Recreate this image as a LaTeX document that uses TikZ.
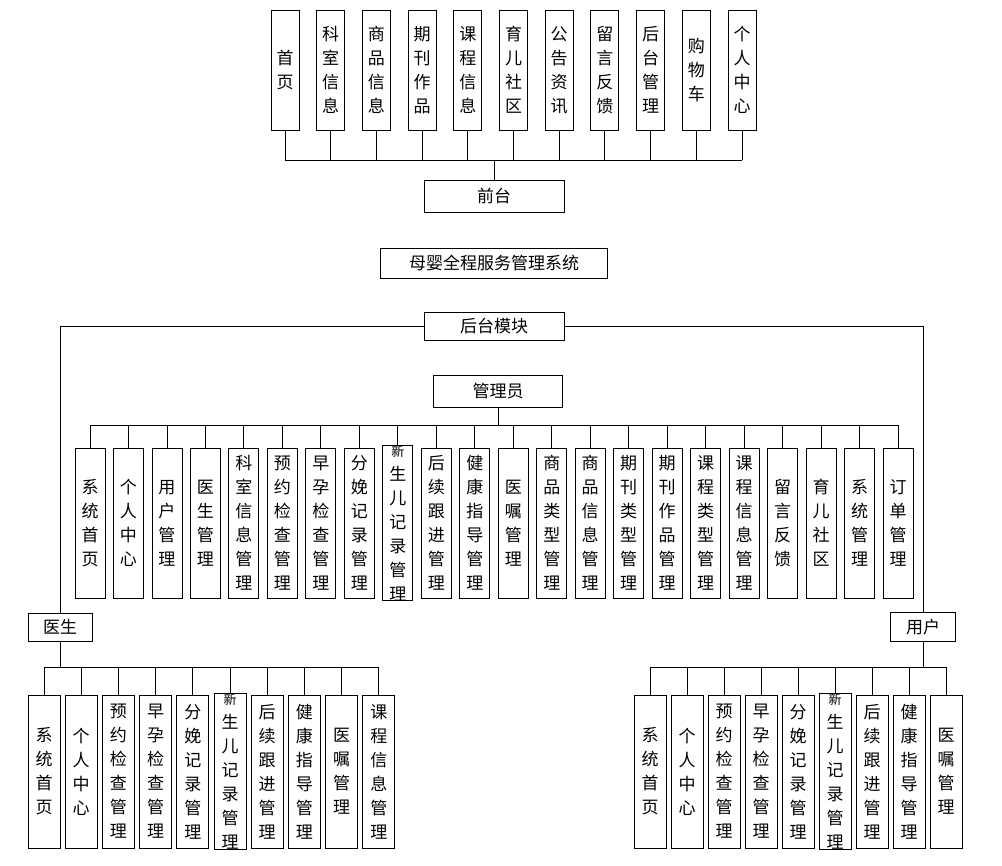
\documentclass[tikz,border=0pt]{standalone}
\usepackage{fontspec}
\newfontfamily\cjk{Noto Sans CJK SC}
\begin{document}
\begin{tikzpicture}[x=1pt,y=-1pt,
  bx/.style={draw,line width=0.9pt,inner sep=0pt,align=center,font=\cjk\fontsize{17}{24}\selectfont},
  vb/.style={bx,minimum width=#1},
  hb/.style={bx,font=\cjk\fontsize{17}{20}\selectfont},
  ln/.style={line width=0.9pt}]
\useasboundingbox (0,0) rectangle (1002,866);
% top
\coordinate (busT) at (0,160);
\foreach \t [count=\i] in {{首\\页},{科\\室\\信\\息},{商\\品\\信\\息},{期\\刊\\作\\品},{课\\程\\信\\息},{育\\儿\\社\\区},{公\\告\\资\\讯},{留\\言\\反\\馈},{后\\台\\管\\理},{购\\物\\车},{个\\人\\中\\心}}{
  \node[bx,minimum width=28pt,minimum height=120pt] (t\i) at ({285+45.7*(\i-1)},70) {\t};
  \draw[ln] (t\i.south) -- (t\i.south|-busT);
}
\draw[ln] (t1.south|-busT) -- (t11.south|-busT);
\node[hb,minimum width=140pt,minimum height=32pt] (fr) at (494,196) {前台};
\draw[ln] (fr.north) -- (fr.north|-busT);
\node[hb,minimum width=227pt,minimum height=30pt] (sys) at (494,263) {母婴全程服务管理系统};
\node[hb,minimum width=140pt,minimum height=28pt] (ht) at (494,326) {后台模块};
\node[hb,minimum width=129pt,minimum height=32pt] (adm) at (498,391) {管理员};
% admin
\coordinate (busA) at (0,425);
\foreach \t [count=\i] in {{系\\统\\首\\页},{个\\人\\中\\心},{用\\户\\管\\理},{医\\生\\管\\理},{科\\室\\信\\息\\管\\理},{预\\约\\检\\查\\管\\理},{早\\孕\\检\\查\\管\\理},{分\\娩\\记\\录\\管\\理},{\fontsize{13}{18}\selectfont 新\\生\\儿\\记\\录\\管\\理},{后\\续\\跟\\进\\管\\理},{健\\康\\指\\导\\管\\理},{医\\嘱\\管\\理},{商\\品\\类\\型\\管\\理},{商\\品\\信\\息\\管\\理},{期\\刊\\类\\型\\管\\理},{期\\刊\\作\\品\\管\\理},{课\\程\\类\\型\\管\\理},{课\\程\\信\\息\\管\\理},{留\\言\\反\\馈},{育\\儿\\社\\区},{系\\统\\管\\理},{订\\单\\管\\理}}{
  \node[bx,minimum width=30pt,minimum height=150pt] (a\i) at ({90+38.48*(\i-1)},523) {\t};
  \draw[ln] (a\i.north) -- (a\i.north|-busA);
}
\draw[ln] (a1.north|-busA) -- (a22.north|-busA);
\draw[ln] (adm.south) -- (adm.south|-busA);
% doctor and user
\node[hb,minimum width=64pt,minimum height=28pt] (doc) at (60,627) {医生};
\node[hb,minimum width=65pt,minimum height=29pt] (usr) at (923,627) {用户};
\draw[ln] (ht.west) -| (doc.north);
\draw[ln] (ht.east) -| (usr.north);
\coordinate (busB) at (0,667);
\foreach \t [count=\i] in {{系\\统\\首\\页},{个\\人\\中\\心},{预\\约\\检\\查\\管\\理},{早\\孕\\检\\查\\管\\理},{分\\娩\\记\\录\\管\\理},{\fontsize{13}{18}\selectfont 新\\生\\儿\\记\\录\\管\\理},{后\\续\\跟\\进\\管\\理},{健\\康\\指\\导\\管\\理},{医\\嘱\\管\\理},{课\\程\\信\\息\\管\\理}}{
  \node[bx,minimum width=32pt,minimum height=153pt] (d\i) at ({44+37.2*(\i-1)},771.5) {\t};
  \draw[ln] (d\i.north) -- (d\i.north|-busB);
}
\draw[ln] (d1.north|-busB) -- (d10.north|-busB);
\draw[ln] (doc.south) -- (doc.south|-busB);
\foreach \t [count=\i] in {{系\\统\\首\\页},{个\\人\\中\\心},{预\\约\\检\\查\\管\\理},{早\\孕\\检\\查\\管\\理},{分\\娩\\记\\录\\管\\理},{\fontsize{13}{18}\selectfont 新\\生\\儿\\记\\录\\管\\理},{后\\续\\跟\\进\\管\\理},{健\\康\\指\\导\\管\\理},{医\\嘱\\管\\理}}{
  \node[bx,minimum width=32pt,minimum height=153pt] (u\i) at ({650+37*(\i-1)},771.5) {\t};
  \draw[ln] (u\i.north) -- (u\i.north|-busB);
}
\draw[ln] (u1.north|-busB) -- (u9.north|-busB);
\draw[ln] (usr.south) -- (usr.south|-busB);
\end{tikzpicture}
\end{document}
